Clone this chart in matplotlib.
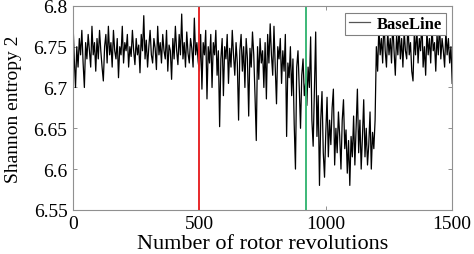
import matplotlib.pyplot as plt
import numpy as np

plt.rcParams['font.family'] = ['Liberation Serif', 'DejaVu Serif']

# revolution step of the sampled signal
step = 5
baseline = [
    6.780, 6.735, 6.700, 6.750, 6.725, 6.760, 6.740, 6.770, 6.730, 6.700,
    6.755, 6.735, 6.765, 6.745, 6.725, 6.775, 6.740, 6.755, 6.720, 6.760,
    6.735, 6.770, 6.745, 6.725, 6.708, 6.750, 6.765, 6.730, 6.775, 6.740,
    6.755, 6.725, 6.770, 6.745, 6.735, 6.760, 6.712, 6.750, 6.740, 6.775,
    6.730, 6.755, 6.745, 6.765, 6.725, 6.750, 6.738, 6.770, 6.745, 6.728,
    6.760, 6.740, 6.752, 6.718, 6.765, 6.745, 6.788, 6.735, 6.758, 6.725,
    6.750, 6.770, 6.740, 6.730, 6.760, 6.748, 6.722, 6.775, 6.740, 6.755,
    6.730, 6.765, 6.745, 6.735, 6.770, 6.720, 6.752, 6.745, 6.710, 6.760,
    6.735, 6.775, 6.745, 6.728, 6.765, 6.740, 6.790, 6.735, 6.755, 6.725,
    6.768, 6.742, 6.730, 6.760, 6.748, 6.725, 6.785, 6.740, 6.755, 6.732,
    6.720, 6.765, 6.698, 6.755, 6.740, 6.770, 6.686, 6.750, 6.730, 6.765,
    6.700, 6.755, 6.740, 6.770, 6.715, 6.745, 6.652, 6.735, 6.760, 6.690,
    6.750, 6.735, 6.765, 6.705, 6.748, 6.725, 6.770, 6.740, 6.715, 6.755,
    6.730, 6.660, 6.745, 6.765, 6.720, 6.750, 6.700, 6.760, 6.735, 6.665,
    6.748, 6.725, 6.768, 6.740, 6.690, 6.635, 6.750, 6.710, 6.760, 6.730,
    6.745, 6.700, 6.755, 6.686, 6.765, 6.730, 6.778, 6.740, 6.715, 6.775,
    6.725, 6.680, 6.750, 6.735, 6.760, 6.705, 6.745, 6.720, 6.765, 6.640,
    6.730, 6.712, 6.750, 6.690, 6.735, 6.655, 6.600, 6.725, 6.745, 6.700,
    6.650, 6.715, 6.735, 6.690, 6.705, 6.678, 6.725, 6.700, 6.762, 6.660,
    6.628, 6.700, 6.768, 6.640, 6.690, 6.580, 6.660, 6.695, 6.620, 6.590,
    6.645, 6.688, 6.615, 6.660, 6.630, 6.675, 6.698, 6.605, 6.650, 6.620,
    6.670, 6.640, 6.600, 6.660, 6.685, 6.625, 6.648, 6.595, 6.635, 6.580,
    6.640, 6.615, 6.665, 6.605, 6.650, 6.698, 6.620, 6.660, 6.600, 6.640,
    6.685, 6.615, 6.650, 6.605, 6.630, 6.670, 6.600, 6.645, 6.625, 6.660,
    6.750, 6.720, 6.775, 6.740, 6.760, 6.730, 6.785, 6.745, 6.725, 6.770,
    6.740, 6.760, 6.730, 6.780, 6.745, 6.715, 6.765, 6.740, 6.775, 6.735,
    6.760, 6.725, 6.770, 6.745, 6.735, 6.780, 6.740, 6.755, 6.720, 6.708,
    6.765, 6.740, 6.775, 6.730, 6.760, 6.745, 6.785, 6.725, 6.750, 6.715,
    6.770, 6.740, 6.760, 6.730, 6.775, 6.745, 6.755, 6.720, 6.765, 6.740,
    6.780, 6.735, 6.760, 6.745, 6.725, 6.770, 6.740, 6.760, 6.730, 6.750,
    6.705,
]
revs = np.arange(len(baseline)) * step

# marker positions (revolutions)
red_mark = 500
green_mark = 920

xticks = [0, 500, 1000, 1500]
yticks = [6.55, 6.6, 6.65, 6.7, 6.75, 6.8]
ytick_labels = ['6.55', '6.6', '6.65', '6.7', '6.75', '6.8']

fig = plt.figure(figsize=(4.74, 2.55), dpi=100)
ax = fig.add_axes([0.154, 0.173, 0.800, 0.800])

ax.plot(revs, baseline, color='black', linewidth=0.9, label='BaseLine')
ax.axvline(red_mark, color='#e8282a', linewidth=1.4)
ax.axvline(green_mark, color='#3cb878', linewidth=1.4)

ax.set_xlim(0, 1500)
ax.set_ylim(6.55, 6.8)
ax.set_xticks(xticks)
ax.set_yticks(yticks)
ax.set_yticklabels(ytick_labels)
ax.tick_params(direction='in', length=3, width=0.6, color='#808080',
               labelsize=14, top=True, right=True, pad=4)
for s in ax.spines.values():
    s.set_color('#909090')
    s.set_linewidth(0.8)

ax.set_xlabel('Number of rotor revolutions', fontsize=16, labelpad=1)
ax.set_ylabel('Shannon entropy 2', fontsize=14, labelpad=8)

leg = ax.legend(loc='upper right', frameon=True, fancybox=False,
                handlelength=1.3, handletextpad=0.4, borderpad=0.2,
                borderaxespad=0.4, prop={'weight': 'bold', 'size': 12})
leg.get_frame().set_edgecolor('#808080')
leg.get_frame().set_linewidth(0.8)
leg.get_frame().set_alpha(1)
leg.get_lines()[0].set_color('#555555')

fig.savefig('out.png', dpi=100)
